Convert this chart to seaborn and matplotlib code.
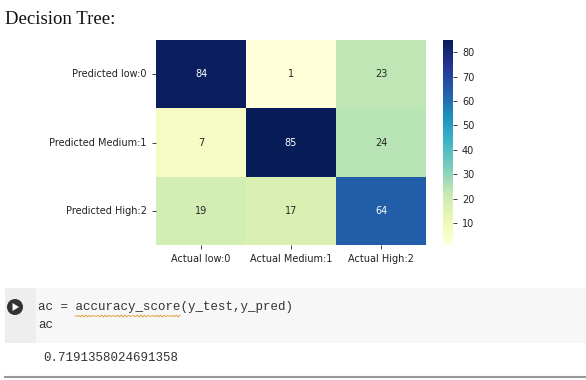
import numpy as np
import pandas as pd
import matplotlib.pyplot as plt
import seaborn as sns
from matplotlib.patches import Rectangle, Circle, Polygon
from matplotlib.lines import Line2D

# confusion matrix of the decision tree
row_labels = ['Predicted low:0', 'Predicted Medium:1', 'Predicted High:2']
col_labels = ['Actual low:0', 'Actual Medium:1', 'Actual High:2']
counts = [[84, 1, 23],
          [7, 85, 24],
          [19, 17, 64]]
cbar_ticks = [10, 20, 30, 40, 50, 60, 70, 80]

code_lines = ['ac = accuracy_score(y_test,y_pred)', 'ac']
output_text = '0.7191358024691358'

W, H = 586, 380
fig = plt.figure(figsize=(W / 100, H / 100), dpi=100)

def fx(px):
    return px / W

def fy(py):
    return 1 - py / H

cm = pd.DataFrame(counts, index=row_labels, columns=col_labels)

ax = fig.add_axes([fx(156), fy(245), fx(426) - fx(156), fy(40) - fy(245)])
cax = fig.add_axes([fx(443), fy(245), fx(453) - fx(443), fy(40) - fy(245)])
sns.heatmap(cm, annot=True, fmt='d', cmap='YlGnBu', ax=ax, cbar_ax=cax,
            annot_kws={'fontsize': 7})
ax.tick_params(axis='both', labelsize=7, length=3, width=0.6, colors='#222222')
ax.set_yticklabels(row_labels, rotation=0)
ax.set_xticklabels(col_labels, rotation=0)
cax.set_yticks(cbar_ticks)
cax.tick_params(labelsize=7, length=3, width=0.6, colors='#222222')

# title text above the chart
fig.text(fx(5), fy(20), 'Decision Tree:', family='Liberation Serif', fontsize=13.5,
         va='center', ha='left', color='#111111')

# notebook code cell
fig.add_artist(Rectangle((fx(5), fy(343)), fx(586) - fx(5), fy(288) - fy(343),
                         transform=fig.transFigure, facecolor='#f7f7f7', edgecolor='none'))
fig.add_artist(Rectangle((fx(5), fy(343)), fx(36) - fx(5), fy(288) - fy(343),
                         transform=fig.transFigure, facecolor='#eeeeee', edgecolor='none'))
fig.add_artist(Circle((15 / 100, (H - 307) / 100), radius=0.08, transform=fig.dpi_scale_trans,
                      facecolor='#333333', edgecolor='none'))
fig.add_artist(Polygon([(fx(12.5), fy(303)), (fx(12.5), fy(311)), (fx(19), fy(307))],
                       closed=True, transform=fig.transFigure, facecolor='white', edgecolor='none'))

for i, line in enumerate(code_lines):
    fig.text(fx(38), fy(307 + i * 18), line, family='Liberation Mono', fontsize=9,
             va='center', ha='left', color='#333333')

# wavy underline under accuracy_score
wx = np.linspace(75, 180, 60)
wy = 316 + 1.0 * np.sin((wx - 75) * 1.6)
fig.add_artist(Line2D(fx(wx), fy(wy), transform=fig.transFigure, color='#e0a040', lw=0.7))

fig.text(fx(43), fy(358), output_text, family='Liberation Mono', fontsize=9,
         va='center', ha='left', color='#333333')
fig.add_artist(Line2D([fx(5), fx(586)], [fy(377), fy(377)], transform=fig.transFigure,
                      color='#999999', lw=1.5))

fig.savefig('out.png', dpi=100)
